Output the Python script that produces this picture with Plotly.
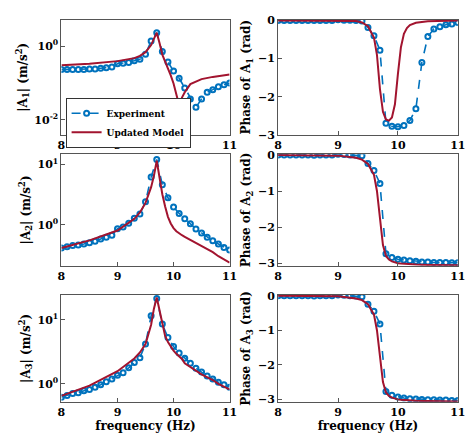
import plotly.graph_objects as go
from plotly.subplots import make_subplots

f_exp = [round(8.0 + 0.1 * i, 1) for i in range(31)]

a1_exp = [0.23, 0.23, 0.23, 0.23, 0.23, 0.24, 0.24, 0.25, 0.26, 0.27, 0.33, 0.34, 0.36, 0.40, 0.44, 0.60,
          1.36, 2.3, 0.71, 0.37, 0.21, 0.134, 0.073, 0.037, 0.022, 0.037, 0.056, 0.066, 0.079, 0.089, 0.10]
a2_exp = [0.41, 0.43, 0.45, 0.46, 0.48, 0.50, 0.53, 0.58, 0.62, 0.67, 0.86, 0.92, 1.06, 1.28, 1.50, 2.4,
          6.2, 12.1, 4.6, 2.8, 1.97, 1.54, 1.25, 1.04, 0.85, 0.73, 0.62, 0.54, 0.48, 0.42, 0.38]
a3_exp = [0.62, 0.66, 0.71, 0.73, 0.78, 0.82, 0.89, 0.97, 1.08, 1.19, 1.36, 1.50, 1.78, 2.16, 2.57, 4.2,
          11.6, 21.6, 8.6, 5.3, 3.84, 3.05, 2.51, 2.11, 1.76, 1.53, 1.33, 1.19, 1.06, 0.97, 0.89]
p1_exp = [0, 0, 0, 0, 0, 0, 0, 0, 0, 0, 0.02, 0.01, 0.01, 0, -0.01, -0.18, -0.40, -0.78, -2.70, -2.78,
          -2.79, -2.76, -2.63, -2.32, -1.10, -0.42, -0.22, -0.16, -0.11, -0.09, -0.05]
p2_exp = [0, 0, 0, 0, 0, 0, -0.01, 0, 0, 0, 0.02, 0.01, 0, -0.01, -0.02, -0.24, -0.43, -0.79, -2.74, -2.84,
          -2.89, -2.91, -2.93, -2.95, -2.97, -2.97, -2.98, -2.98, -2.98, -2.99, -2.99]
p3_exp = [0, 0, 0, 0, 0, 0, -0.01, 0, 0, 0, 0.02, 0.01, 0, -0.01, -0.03, -0.25, -0.45, -0.82, -2.77, -2.88,
          -2.93, -2.96, -2.98, -2.99, -3.00, -3.01, -3.01, -3.02, -3.02, -3.03, -3.03]

f_mod = [8.0, 8.5, 9.0, 9.3, 9.4, 9.5, 9.6, 9.65, 9.7, 9.75, 9.8, 9.85, 9.9, 9.95, 10.0, 10.05, 10.1,
         10.15, 10.2, 10.3, 10.5, 10.7, 10.8, 11.0]
a1_mod = [0.30, 0.33, 0.39, 0.47, 0.54, 0.68, 1.06, 1.5, 2.3, 1.2, 0.58, 0.38, 0.26, 0.16, 0.097, 0.05, 0.025,
          0.04, 0.056, 0.093, 0.127, 0.146, 0.155, 0.17]
a2_mod = [0.41, 0.55, 0.80, 1.25, 1.6, 2.3, 4.2, 6.5, 11.5, 6.0, 3.2, 2.0, 1.35, 1.05, 0.88, 0.78, 0.71,
          0.67, 0.63, 0.56, 0.44, 0.35, 0.30, 0.235]
a3_mod = [0.65, 0.94, 1.58, 2.5, 3.1, 4.2, 8.4, 15.0, 22.4, 14.0, 7.9, 5.6, 4.5, 3.8, 3.3, 2.95, 2.7,
          2.45, 2.1, 1.85, 1.41, 1.15, 1.0, 0.82]
p1_mod = [0, 0, 0, -0.01, -0.05, -0.15, -0.45, -0.9, -1.8, -2.4, -2.6, -2.63, -2.55, -2.2, -1.4, -0.7, -0.35,
          -0.2, -0.12, -0.06, -0.02, -0.01, 0, 0]
p2_mod = [0, -0.01, -0.02, -0.08, -0.13, -0.25, -0.55, -1.0, -1.8, -2.5, -2.8, -2.9, -2.95, -2.98, -3.0,
          -3.01, -3.02, -3.03, -3.03, -3.04, -3.05, -3.05, -3.06, -3.06]
p3_mod = [0, -0.01, -0.02, -0.08, -0.13, -0.25, -0.55, -1.0, -1.8, -2.5, -2.8, -2.9, -2.95, -2.98, -3.0,
          -3.01, -3.02, -3.03, -3.03, -3.04, -3.05, -3.05, -3.06, -3.06]

BLUE = "#0072BD"
RED = "#A2142F"
FONT = "DejaVu Serif"

fig = make_subplots(rows=3, cols=2)
mags = [(a1_exp, a1_mod), (a2_exp, a2_mod), (a3_exp, a3_mod)]
phs = [(p1_exp, p1_mod), (p2_exp, p2_mod), (p3_exp, p3_mod)]
for r in range(3):
    for c, (e, m) in enumerate([mags[r], phs[r]]):
        first = (r == 0 and c == 0)
        fig.add_trace(go.Scatter(x=f_exp, y=e, mode="lines+markers", name="<b>Experiment</b>", showlegend=first,
                                 line=dict(color=BLUE, width=1.6, dash="dash"),
                                 marker=dict(symbol="circle-open", size=5, color=BLUE, line=dict(width=2, color=BLUE))),
                      row=r + 1, col=c + 1)
        fig.add_trace(go.Scatter(x=f_mod, y=m, mode="lines", name="<b>Updated Model</b>", showlegend=first,
                                 line=dict(color=RED, width=2)),
                      row=r + 1, col=c + 1)

ydoms = [[0.713, 0.984], [0.404, 0.667], [0.083, 0.335]]
xdoms = [[0.107, 0.471], [0.576, 0.965]]
axstyle = dict(showline=True, mirror=True, linecolor="#555", linewidth=1, ticks="inside", ticklen=4,
               tickcolor="#555", showgrid=False, zeroline=False,
               tickfont=dict(family=FONT, size=11, color="black", weight="bold"))
magranges = [[-2.4, 0.71], [-0.68, 1.17], [-0.28, 1.39]]
magticks = [([0.01, 1], ["10<sup>-2</sup>", "10<sup>0</sup>"]),
            ([1, 10], ["10<sup>0</sup>", "10<sup>1</sup>"]),
            ([1, 10], ["10<sup>0</sup>", "10<sup>1</sup>"])]
phranges = [[-3, 0.02], [-3.07, 0.02], [-3.07, 0.02]]
tf = dict(family=FONT, size=12, color="black", weight="bold")
for r in range(3):
    for c in range(2):
        idx = r * 2 + c + 1
        xa = "xaxis" if idx == 1 else f"xaxis{idx}"
        ya = "yaxis" if idx == 1 else f"yaxis{idx}"
        xt = dict(text="frequency (Hz)", font=tf, standoff=2) if r == 2 else None
        fig.layout[xa].update(domain=xdoms[c], range=[8, 11], tickvals=[8, 9, 10, 11], title=xt, **axstyle)
        if c == 0:
            fig.layout[ya].update(domain=ydoms[r], type="log", range=magranges[r],
                                  tickvals=magticks[r][0], ticktext=magticks[r][1],
                                  title=dict(text=f"|A<sub>{r+1}</sub>| (m/s<sup>2</sup>)", font=tf, standoff=4),
                                  **axstyle)
        else:
            fig.layout[ya].update(domain=ydoms[r], range=phranges[r], tickvals=[0, -1, -2, -3],
                                  title=dict(text=f"Phase of A<sub>{r+1}</sub> (rad)", font=tf, standoff=4),
                                  **axstyle)

fig.update_layout(width=474, height=436, margin=dict(l=0, r=0, t=0, b=0),
                  paper_bgcolor="white", plot_bgcolor="white",
                  font=dict(family=FONT, color="black"),
                  legend=dict(x=0.116, y=0.80, xanchor="left", yanchor="top", bgcolor="white",
                              bordercolor="#333", borderwidth=1,
                              font=dict(family=FONT, size=9, color="black"), tracegroupgap=0,
                              itemwidth=30))
fig.write_html("out.html")
